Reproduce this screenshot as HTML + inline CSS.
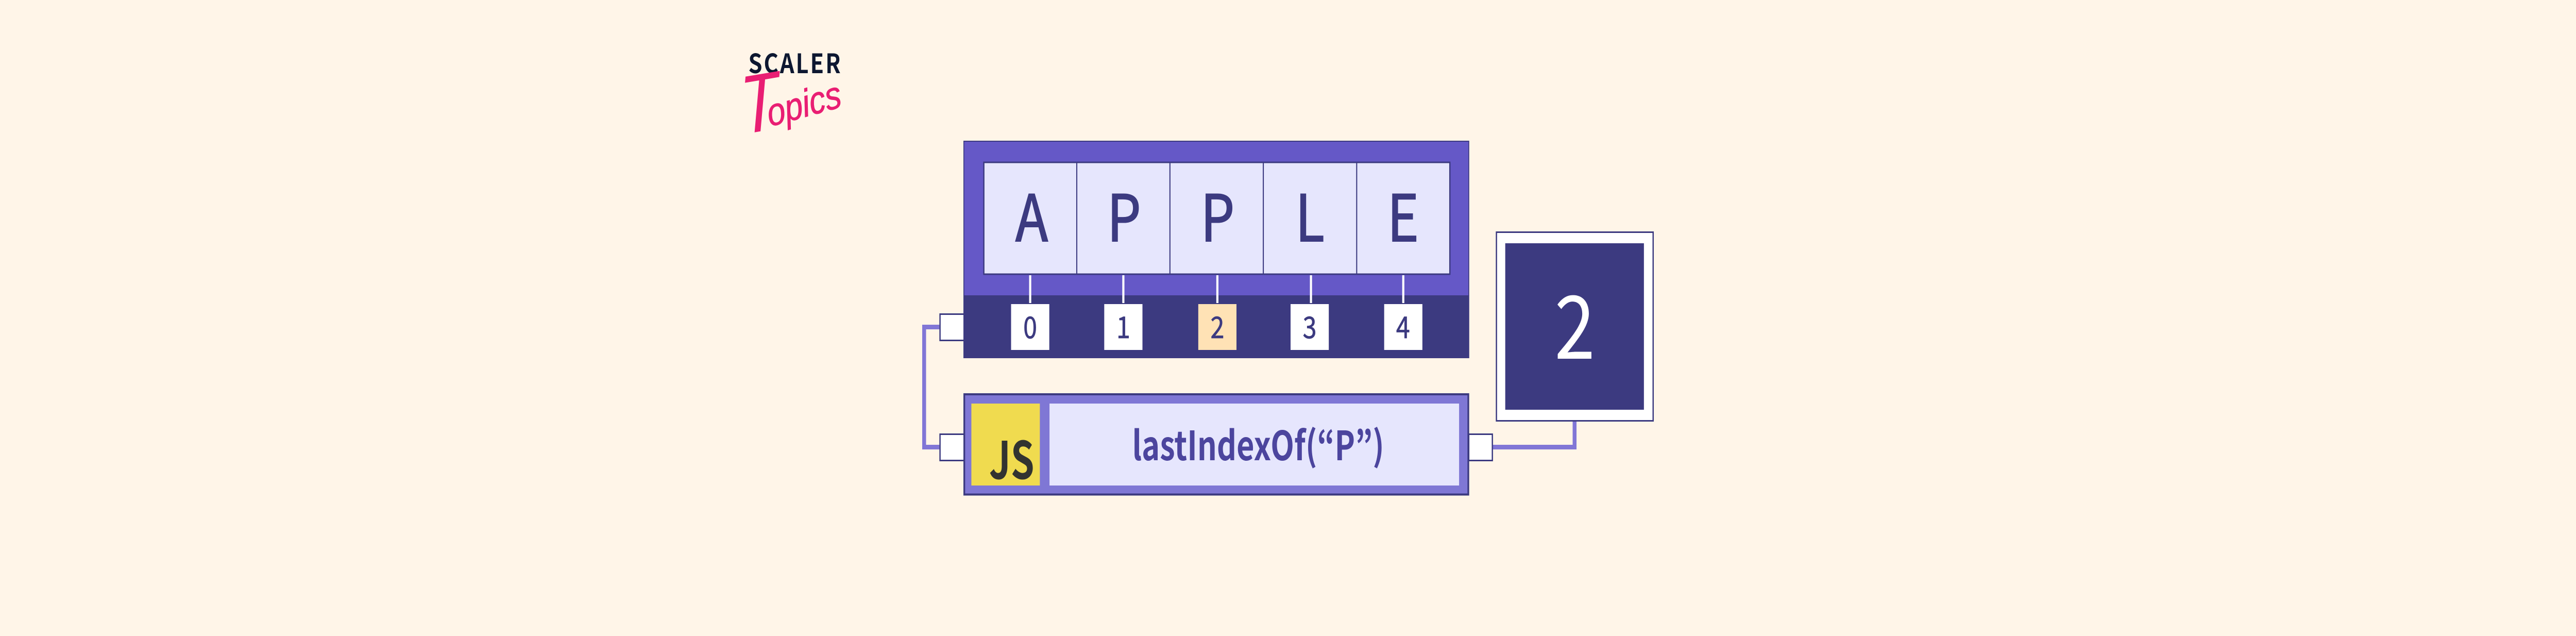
<!DOCTYPE html>
<html>
<head>
<meta charset="utf-8">
<style>
html,body{margin:0;padding:0;background:#fff5e8;width:100%;height:100%;overflow:hidden}
svg{display:block;position:fixed;left:0;top:0;width:100vw;height:100vh}
text{font-family:"Liberation Sans","Noto Sans CJK JP",sans-serif}
.n{font-family:"Noto Sans CJK JP","Liberation Sans",sans-serif;text-anchor:middle}
.s{font-family:"Noto Sans CJK JP","Liberation Sans",sans-serif}
</style>
</head>
<body>
<svg xmlns="http://www.w3.org/2000/svg" viewBox="0 0 6000 1234" preserveAspectRatio="none">
<rect width="6000" height="1234" fill="#fff5e8"/>

<!-- logo -->
<text class="s" x="1743" y="142" font-size="52" font-weight="700" textLength="215" lengthAdjust="spacing" fill="#0d1730">SCALER</text>
<text class="s" transform="translate(1720,262) rotate(-8)" font-style="italic" font-weight="400" font-size="150" fill="#e91e73">T</text>
<text transform="translate(1793,246) rotate(-13)" font-style="italic" font-size="75" fill="#e91e73" stroke="#e91e73" stroke-width="1">opics</text>

<!-- connectors -->
<path d="M2188 634.5H2152.5V867.5H2188" fill="none" stroke="#8176d6" stroke-width="9"/>
<path d="M3477 867.5H3667.5V817" fill="none" stroke="#8176d6" stroke-width="9"/>

<!-- ports -->
<rect x="2189.5" y="609.5" width="56" height="51" fill="#fff" stroke="#3c3a80" stroke-width="3"/>
<rect x="2189.5" y="842.5" width="56" height="51" fill="#fff" stroke="#3c3a80" stroke-width="3"/>
<rect x="3421" y="842.5" width="55" height="51" fill="#fff" stroke="#3c3a80" stroke-width="3"/>

<!-- top box -->
<rect x="2244" y="273" width="1178" height="301" fill="#6558c7"/>
<rect x="2244" y="573" width="1178" height="122" fill="#3c3a80"/>
<rect x="2245" y="274" width="1176" height="420" fill="none" stroke="#3c3a80" stroke-width="2"/>

<!-- cells -->
<rect x="2291.5" y="315" width="1085.5" height="217" fill="#e6e6fd" stroke="#3c3a80" stroke-width="3"/>
<path d="M2508 315V532M2725 315V532M2942.5 315V532M3160 315V532" stroke="#3c3a80" stroke-width="2.5" fill="none"/>
<g font-size="125" fill="#3c3a80" stroke="#3c3a80" stroke-width="2">
<text class="n" x="2403" y="468">A</text>
<text class="n" x="2618" y="468">P</text>
<text class="n" x="2836" y="468">P</text>
<text class="n" x="3051" y="468">L</text>
<text class="n" x="3268" y="468">E</text>
</g>

<!-- leader lines -->
<g fill="#fff">
<rect x="2397" y="534" width="5" height="54"/>
<rect x="2614" y="534" width="5" height="54"/>
<rect x="2833" y="534" width="5" height="54"/>
<rect x="3051" y="534" width="5" height="54"/>
<rect x="3266" y="534" width="5" height="54"/>
</g>

<!-- index boxes -->
<rect x="2355" y="590" width="89" height="89" fill="#fff"/>
<rect x="2572" y="590" width="89" height="89" fill="#fff"/>
<rect x="2791" y="590" width="89" height="89" fill="#ffe2b5"/>
<rect x="3006" y="590" width="89" height="89" fill="#fff"/>
<rect x="3224" y="590" width="89" height="89" fill="#fff"/>
<g font-size="58" fill="#3c3a80" stroke="#3c3a80" stroke-width="0.8">
<text class="n" x="2399.5" y="656">0</text>
<text class="n" x="2616.5" y="656">1</text>
<text class="n" x="2835.5" y="656">2</text>
<text class="n" x="3050.5" y="656">3</text>
<text class="n" x="3268" y="656">4</text>
</g>

<!-- method box -->
<rect x="2246" y="765" width="1174" height="194.5" fill="#7f77d5" stroke="#3c3a80" stroke-width="4"/>
<rect x="2262.5" y="783" width="159.5" height="159" fill="#f0db4f"/>
<text class="s" x="2304" y="929" font-size="100" font-weight="700" textLength="105" lengthAdjust="spacingAndGlyphs" fill="#323330">JS</text>
<rect x="2444.5" y="783" width="954" height="159" fill="#e6e6fd"/>
<text class="s" x="2637" y="893" font-size="78" font-weight="700" textLength="587" lengthAdjust="spacingAndGlyphs" fill="#4c459e">lastIndexOf(“P”)</text>

<!-- result box -->
<rect x="3485.5" y="450.5" width="365" height="366" fill="#fff" stroke="#3c3a80" stroke-width="3"/>
<rect x="3506" y="472" width="323" height="323" fill="#3c3a80"/>
<text class="n" x="3668" y="696" font-size="170" font-weight="400" fill="#fff">2</text>
</svg>
</body>
</html>
